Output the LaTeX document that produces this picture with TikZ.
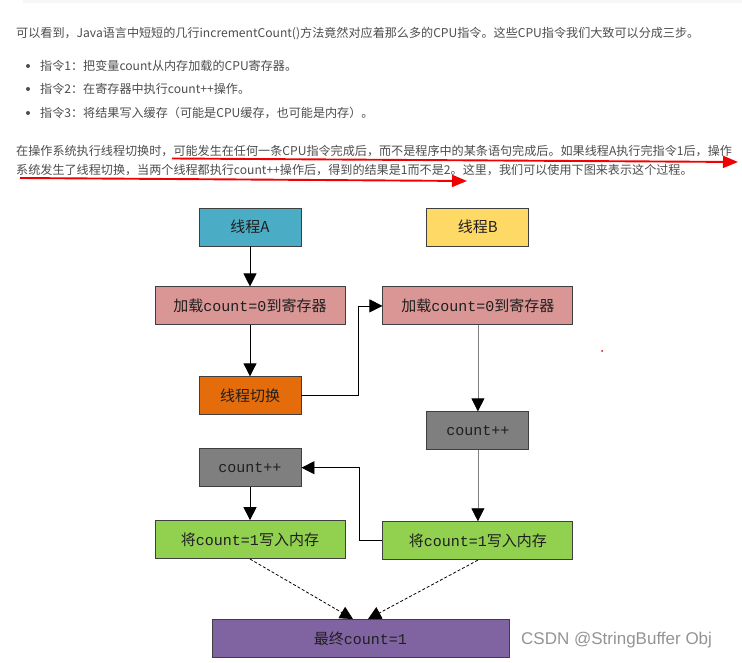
\documentclass[tikz,border=0pt]{standalone}
\usepackage{fontspec}
\usepackage{xcolor}
\usepackage{tikz}
\usetikzlibrary{arrows.meta,positioning}
\newfontfamily\cjk{Noto Sans CJK SC}
\newfontfamily\mono{Liberation Mono}
\newfontfamily\wmfont{Liberation Sans}
\definecolor{txtgray}{HTML}{4D4D4D}
\definecolor{topband}{HTML}{F6F7F8}
\definecolor{boxline}{HTML}{3F3F3F}
\definecolor{boxtext}{HTML}{1F1F1F}
\definecolor{threadAcol}{HTML}{4BACC6}
\definecolor{threadBcol}{HTML}{FFD966}
\definecolor{loadcol}{HTML}{D99694}
\definecolor{switchcol}{HTML}{E46C0A}
\definecolor{inccol}{HTML}{7F7F7F}
\definecolor{writecol}{HTML}{92D050}
\definecolor{finalcol}{HTML}{8064A2}
\definecolor{markred}{HTML}{F00000}
\tikzset{
  bodytext/.style={anchor=west, inner sep=0pt, text=txtgray, font=\cjk\fontsize{12.1}{14}\selectfont},
  flowbox/.style={rectangle, draw=boxline, line width=0.9pt, minimum height=38pt, inner sep=0pt, text=boxtext, font=\cjk\fontsize{15}{18}\selectfont},
  flowshort/.style={flowbox, minimum width=102pt},
  flowlong/.style={flowbox, minimum width=190pt},
  flowarrow/.style={-{Triangle[length=13pt,width=13pt,color=black]}, line width=0.8pt},
  flowgray/.style={flowarrow, draw=inccol},
  flowdash/.style={flowarrow, dash pattern=on 3pt off 2pt},
  markline/.style={-{Triangle[length=15pt,width=12pt]}, draw=markred, line width=1.9pt}
}
\begin{document}
\begin{tikzpicture}[x=1pt,y=-1pt]
\useasboundingbox (0,0) rectangle (742,663);
\fill[white] (0,0) rectangle (742,663);
\fill[topband] (23,0) rectangle (742,3);
% text above the diagram
\node[bodytext] (intro) at (16,34) {可以看到，Java语言中短短的几行incrementCount()方法竟然对应着那么多的CPU指令。这些CPU指令我们大致可以分成三步。};
\fill[txtgray] (28,66) circle (2pt);
\fill[txtgray] (28,89) circle (2pt);
\fill[txtgray] (28,113) circle (2pt);
\node[bodytext] (step1) at (40,66) {指令1：把变量count从内存加载的CPU寄存器。};
\node[bodytext] (step2) at (40,89) {指令2：在寄存器中执行count++操作。};
\node[bodytext] (step3) at (40,113) {指令3：将结果写入缓存（可能是CPU缓存，也可能是内存）。};
\node[bodytext] (para1) at (16,151) {在操作系统执行线程切换时，可能发生在任何一条CPU指令完成后，而不是程序中的某条语句完成后。如果线程A执行完指令1后，操作};
\node[bodytext] (para2) at (16,170) {系统发生了线程切换，当两个线程都执行count++操作后，得到的结果是1而不是2。这里，我们可以使用下图来表示这个过程。};
% red marks
\coordinate (mark1s) at (172,158.5);
\coordinate (mark1e) at (738,162);
\coordinate (mark2s) at (20,178);
\coordinate (mark2e) at (467,181);
\draw[markline] (mark1s) -- (mark1e);
\draw[markline] (mark2s) -- (mark2e);
\fill[markred] (602,351) circle (1pt);
% diagram
\node[flowshort, fill=threadAcol] (threadA) at (250,227) {线程A};
\node[flowshort, fill=threadBcol, right=125pt of threadA] (threadB) {线程B};
\node[flowlong, fill=loadcol, below=40pt of threadA] (loadA) {加载{\mono count=0}到寄存器};
\node[flowlong, fill=loadcol, below=40pt of threadB] (loadB) {加载{\mono count=0}到寄存器};
\node[flowshort, fill=switchcol, below=51pt of loadA] (switch) {线程切换};
\node[flowshort, fill=inccol, below=86pt of loadB] (incB) {{\mono count++}};
\node[flowshort, fill=inccol, below=33pt of switch] (incA) {{\mono count++}};
\node[flowlong, fill=writecol, below=33pt of incA] (writeA) {将{\mono count=1}写入内存};
\node[flowlong, fill=writecol, below=71pt of incB] (writeB) {将{\mono count=1}写入内存};
\node[flowbox, fill=finalcol, minimum width=297pt] (final) at (360.5,638.5) {最终{\mono count=1}};
\draw[flowarrow] (threadA) -- (loadA);
\draw[flowarrow] (loadA) -- (switch);
\draw[flowarrow] (switch.east) -- ++(57,0) |- (loadB.west);
\draw[flowgray] (loadB) -- (incB);
\draw[flowgray] (incB) -- (writeB);
\draw[flowarrow] (writeB.west) -- ++(-23,0) |- (incA.east);
\draw[flowarrow] (incA) -- (writeA);
\draw[flowdash] (writeA.south) -- ([xshift=-7.5pt]final.north);
\draw[flowdash] (writeB.south) -- ([xshift=7.5pt]final.north);
% watermark
\node[anchor=west, inner sep=0pt, text=black!42, font=\wmfont\fontsize{17}{20}\selectfont] (mark) at (521,640) {CSDN @StringBuffer Obj};
\end{tikzpicture}
\end{document}
